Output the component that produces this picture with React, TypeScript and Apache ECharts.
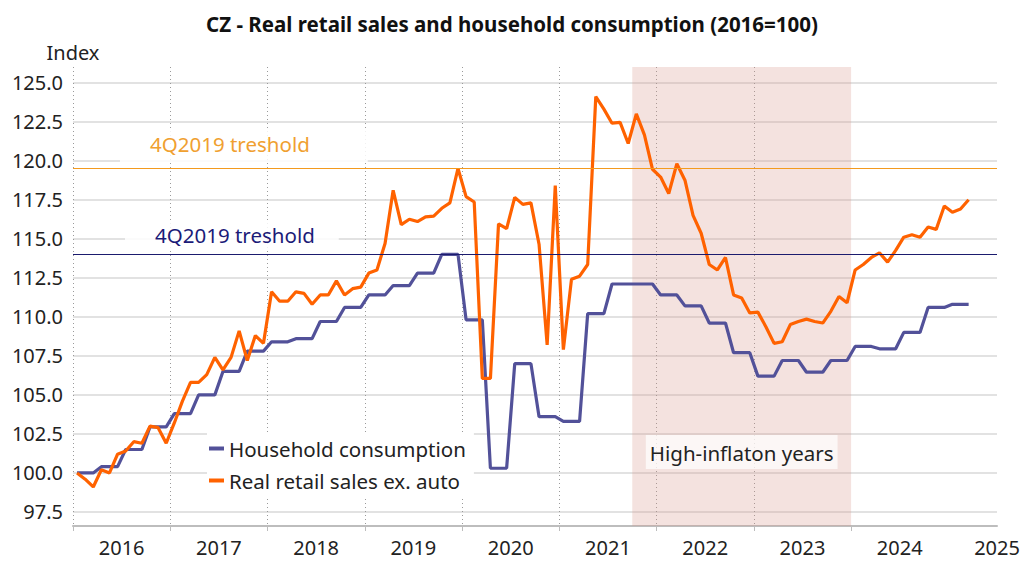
import React, { useEffect, useRef } from "react";
import * as echarts from "echarts";

const FONT = "'Noto Sans', 'DejaVu Sans', sans-serif";

const TITLE = "CZ - Real retail sales and household consumption (2016=100)";
const START_YEAR = 2016;
const YEAR_LABELS = [2016, 2017, 2018, 2019, 2020, 2021, 2022, 2023, 2024, 2025];
const Y_TICKS = [97.5, 100, 102.5, 105, 107.5, 110, 112.5, 115, 117.5, 120, 122.5, 125];

// Monthly values, Jan 2016 - Mar 2025 (quarterly consumption repeated over its months)
const householdConsumption = [
  100.0, 100.0, 100.0, 100.4, 100.4, 100.4, 101.5, 101.5, 101.5, 102.95, 102.95, 102.95,
  103.8, 103.8, 103.8, 105.0, 105.0, 105.0, 106.5, 106.5, 106.5, 107.8, 107.8, 107.8,
  108.4, 108.4, 108.4, 108.6, 108.6, 108.6, 109.7, 109.7, 109.7, 110.6, 110.6, 110.6,
  111.4, 111.4, 111.4, 112.0, 112.0, 112.0, 112.8, 112.8, 112.8, 114.0, 114.0, 114.0,
  109.8, 109.8, 109.8, 100.3, 100.3, 100.3, 107.0, 107.0, 107.0, 103.6, 103.6, 103.6,
  103.3, 103.3, 103.3, 110.2, 110.2, 110.2, 112.1, 112.1, 112.1, 112.1, 112.1, 112.1,
  111.4, 111.4, 111.4, 110.7, 110.7, 110.7, 109.6, 109.6, 109.6, 107.7, 107.7, 107.7,
  106.2, 106.2, 106.2, 107.2, 107.2, 107.2, 106.45, 106.45, 106.45, 107.2, 107.2, 107.2,
  108.1, 108.1, 108.1, 107.95, 107.95, 107.95, 109.0, 109.0, 109.0, 110.6, 110.6, 110.6,
  110.8, 110.8, 110.8,
];

const retailSalesExAuto = [
  100.0, 99.6, 99.1, 100.2, 100.0, 101.2, 101.4, 102.0, 101.9, 103.0, 102.9, 101.9,
  103.2, 104.6, 105.8, 105.8, 106.3, 107.4, 106.6, 107.4, 109.1, 107.2, 108.8, 108.3,
  111.6, 111.0, 111.0, 111.6, 111.5, 110.8, 111.4, 111.4, 112.3, 111.4, 111.8, 111.9,
  112.8, 113.0, 114.7, 118.1, 115.9, 116.25, 116.1, 116.4, 116.45, 116.95, 117.3, 119.5,
  117.7, 117.35, 106.05, 106.05, 115.95, 115.65, 117.65, 117.2, 117.3, 114.65, 108.2, 118.4,
  107.9, 112.4, 112.6, 113.35, 124.1, 123.3, 122.4, 122.45, 121.1, 123.0, 121.65, 119.45,
  118.95, 117.9, 119.8, 118.75, 116.5, 115.35, 113.35, 113.0, 113.8, 111.4, 111.2, 110.25,
  110.3, 109.35, 108.3, 108.4, 109.5, 109.7, 109.85, 109.7, 109.6, 110.35, 111.3, 110.9,
  113.0, 113.35, 113.8, 114.1, 113.5, 114.25, 115.1, 115.25, 115.1, 115.75, 115.6, 117.1,
  116.7, 116.9, 117.5,
];

const RETAIL_THRESHOLD = 119.5;
const HOUSEHOLD_THRESHOLD = 114.0;
const THRESHOLD_LABEL = "4Q2019 treshold";

const HIGH_INFLATION_LABEL = "High-inflaton years";
const HIGH_INFLATION_FROM = "2021-10";
const HIGH_INFLATION_TO = "2023-12";
const AXIS_END = "2025-06";

const SERIES_HOUSEHOLD = "Household consumption";
const SERIES_RETAIL = "Real retail sales ex. auto";

// month string -> months since Jan of START_YEAR (left edge of that month)
const monthStart = (ym: string) => {
  const [y, m] = ym.split("-").map(Number);
  return (y - START_YEAR) * 12 + (m - 1);
};
const monthEnd = (ym: string) => monthStart(ym) + 1;

const toPoints = (values: number[]) => values.map((v, i) => [i + 0.5, v]);

const yearBoundaries = YEAR_LABELS.slice(0, -1).map((y) => (y - START_YEAR) * 12);
const yearMiddles = YEAR_LABELS.map((y) => (y - START_YEAR) * 12 + 6);

export default function App() {
  const ref = useRef<HTMLDivElement>(null);

  useEffect(() => {
    document.body.style.margin = "0";
    const chart = echarts.init(ref.current!, null, { renderer: "svg" });
    const option = {
      animation: false,
      textStyle: { fontFamily: FONT },
      title: {
        text: TITLE,
        left: "center",
        top: 8,
        textStyle: { fontSize: 20.5, fontWeight: "bold", color: "#111", fontFamily: FONT },
      },
      legend: {
        data: [SERIES_HOUSEHOLD, SERIES_RETAIL],
        orient: "vertical",
        left: 207,
        top: 432,
        icon: "rect",
        itemWidth: 15,
        itemHeight: 4,
        itemGap: 11,
        backgroundColor: "#ffffff",
        padding: [6, 8, 6, 2],
        textStyle: { fontSize: 20.5, color: "#222", fontFamily: FONT },
      },
      grid: { left: 73, right: 27, top: 67, bottom: 50 },
      xAxis: {
        type: "value",
        min: 0,
        max: monthEnd(AXIS_END),
        axisLine: { show: true, lineStyle: { color: "#bdbdbd", width: 2 } },
        axisTick: {
          show: true,
          length: 5,
          customValues: yearBoundaries,
          lineStyle: { color: "#bdbdbd", width: 1 },
        },
        axisLabel: {
          customValues: yearMiddles,
          formatter: (v: number) => String(START_YEAR + Math.round((v - 6) / 12)),
          fontSize: 20,
          color: "#222",
          margin: 11,
          fontFamily: FONT,
        },
        splitLine: {
          show: true,
          showMaxLine: false,
          lineStyle: { color: "#9a9a9a", type: [1, 3], width: 1 },
        },
      },
      yAxis: {
        type: "value",
        min: 96.6,
        max: 126,
        name: "Index",
        nameLocation: "end",
        nameGap: 5,
        nameTextStyle: { fontSize: 20, color: "#222", fontFamily: FONT, align: "center", verticalAlign: "bottom" },
        axisLine: { show: false },
        axisTick: { show: false, customValues: Y_TICKS },
        axisLabel: {
          customValues: Y_TICKS,
          formatter: (v: number) => v.toFixed(1),
          fontSize: 20,
          color: "#222",
          margin: 10,
          fontFamily: FONT,
        },
        splitLine: { show: true, lineStyle: { color: "#e2e2e2", width: 2 } },
      },
      series: [
        {
          name: SERIES_HOUSEHOLD,
          type: "line",
          data: toPoints(householdConsumption),
          showSymbol: false,
          color: "#525199",
          lineStyle: { color: "#525199", width: 3.2 },
          markLine: {
            silent: true,
            symbol: ["none", "none"],
            data: [
              {
                yAxis: HOUSEHOLD_THRESHOLD,
                lineStyle: { color: "#1b1b6e", width: 1.2, type: "solid" },
                label: {
                  show: true,
                  position: "insideStartTop",
                  formatter: THRESHOLD_LABEL,
                  color: "#1b1b78",
                  fontSize: 20.5,
                  fontFamily: FONT,
                  backgroundColor: "rgba(255,255,255,0.85)",
                  padding: [4, 24, 3, 30],
                  distance: [52, 6],
                },
              },
            ],
          },
        },
        {
          name: SERIES_RETAIL,
          type: "line",
          data: toPoints(retailSalesExAuto),
          showSymbol: false,
          color: "#ff6200",
          lineStyle: { color: "#ff6200", width: 3.2 },
          markLine: {
            silent: true,
            symbol: ["none", "none"],
            data: [
              {
                yAxis: RETAIL_THRESHOLD,
                lineStyle: { color: "#f39a1e", width: 1.2, type: "solid" },
                label: {
                  show: true,
                  position: "insideStartTop",
                  formatter: THRESHOLD_LABEL,
                  color: "#f0a030",
                  fontSize: 20.5,
                  fontFamily: FONT,
                  backgroundColor: "rgba(255,255,255,0.85)",
                  padding: [4, 58, 8, 30],
                  distance: [47, 6],
                },
              },
            ],
          },
          markArea: {
            silent: true,
            itemStyle: { color: "rgba(215,150,140,0.28)" },
            label: {
              show: true,
              position: "insideBottom",
              distance: 57,
              color: "#222",
              fontSize: 20.5,
              fontFamily: FONT,
              backgroundColor: "rgba(255,255,255,0.72)",
              padding: [7, 4, 6, 4],
            },
            data: [
              [
                { name: HIGH_INFLATION_LABEL, xAxis: monthStart(HIGH_INFLATION_FROM) },
                { xAxis: monthEnd(HIGH_INFLATION_TO) },
              ],
            ],
          },
        },
      ],
    };
    chart.setOption(option as any);
    return () => chart.dispose();
  }, []);

  return (
    <div
      ref={ref}
      style={{ position: "absolute", left: 0, top: 0, width: 1024, height: 576 }}
    />
  );
}
